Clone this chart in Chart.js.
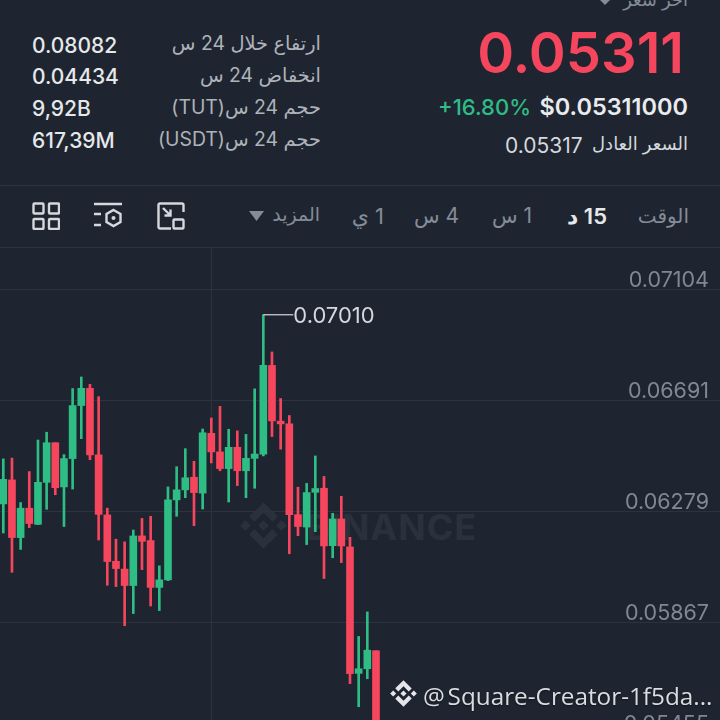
<!DOCTYPE html>
<html lang="ar">
<head>
<meta charset="utf-8">
<script src="https://cdn.jsdelivr.net/npm/chart.js@4"></script>
<style>
  html, body { margin: 0; padding: 0; width: 720px; height: 720px; overflow: hidden; background: #1f2530; }
  body { position: relative; font-family: Inter, "DejaVu Sans", sans-serif; }
  .t { position: absolute; white-space: nowrap; line-height: 1; }
  .r { text-align: right; }
  .line { position: absolute; left: 0; width: 720px; height: 1px; background: #2e3540; }
  #chart { position: absolute; left: 0; top: 248px; }
  svg { position: absolute; }
  .stat { font-size: 21px; font-weight: 500; color: #e6e8ea; left: 32px; }
  .lab { font-size: 19.4px; color: #aeb3ba; right: 399px; }
  .tab { font-size: 21px; color: #848c98; top: 205px; }
</style>
</head>
<body>
<svg width="0" height="0" style="position:absolute">
  <symbol id="bnb" viewBox="0 0 126 126">
    <path d="M38.73 53.2 63 28.93l24.28 24.28 14.12-14.12L63 .69 24.61 39.08z"/>
    <path d="M.69 63l14.12-14.12L28.93 63 14.81 77.12z"/>
    <path d="M38.73 72.8 63 97.07l24.28-24.28 14.13 14.11L63 125.31 24.61 86.92z"/>
    <path d="M97.07 63l14.12-14.12L125.31 63l-14.12 14.12z"/>
    <path d="M77.32 63 63 48.67 48.68 63 63 77.32z"/>
  </symbol>
</svg>

<div class="t r" dir="rtl" style="top:-9px;right:32px;font-size:18px;color:#848c98">آخر سعر</div>
<svg style="left:599px;top:-5px" width="12" height="12" viewBox="0 0 12 12"><path d="M6 0l5 5-5 5-5-5z" fill="#848c98"/></svg>
<div class="t" style="top:25px;right:36px;font-size:56px;font-weight:600;color:#f6465d">0.05311</div>
<div class="t" style="top:96px;left:438px;font-size:22px;font-weight:500;color:#2ebd85">+16.80%</div>
<div class="t" style="top:95px;right:32px;font-size:23.5px;font-weight:600;color:#e9ebee">$0.05311000</div>
<div class="t" style="top:135px;left:505px;font-size:21px;color:#d5d8dc">0.05317</div>
<div class="t" dir="rtl" style="top:135px;right:32px;font-size:18px;color:#d5d8dc">السعر العادل</div>

<div class="t stat" style="top:35px">0.08082</div>
<div class="t stat" style="top:66px">0.04434</div>
<div class="t stat" style="top:98px">9,92B</div>
<div class="t stat" style="top:130px">617,39M</div>
<div class="t lab" dir="rtl" style="top:34px">ارتفاع خلال 24 س</div>
<div class="t lab" dir="rtl" style="top:66px">انخفاض 24 س</div>
<div class="t lab" dir="rtl" style="top:98px">حجم 24 س(TUT)</div>
<div class="t lab" dir="rtl" style="top:130px">حجم 24 س(USDT)</div>

<div class="line" style="top:185px"></div>
<div class="line" style="top:247px"></div>

<svg style="left:32px;top:202px" width="28" height="28" viewBox="0 0 28 28" fill="none" stroke="#d5d8dc" stroke-width="2.4">
  <rect x="1.5" y="1.5" width="10" height="10" rx="1"/><rect x="17" y="1.5" width="10" height="10" rx="1"/>
  <rect x="1.5" y="17" width="10" height="10" rx="1"/><rect x="17" y="17" width="10" height="10" rx="1"/>
</svg>
<svg style="left:93px;top:202px" width="30" height="28" viewBox="0 0 30 28" fill="none" stroke="#d5d8dc" stroke-width="2.4">
  <path d="M1 2h28M1 12h7M1 23h7"/><path d="M20.500 8l7 4v8l-7 4-7-4v-8z"/>
  <circle cx="20.500" cy="16" r="2" fill="#d5d8dc" stroke="none"/>
</svg>
<svg style="left:157px;top:202px" width="28" height="28" viewBox="0 0 28 28" fill="none" stroke="#d5d8dc" stroke-width="2.400">
  <path d="M15 1.500h10a1.500 1.500 0 0 1 1.500 1.500v7M1.500 10V3A1.500 1.500 0 0 1 3 1.500h12M1.500 10v15A1.500 1.500 0 0 0 3 26.500h11"/>
  <path d="M6 6l7.500 7.500M13.500 7.500v6h-6"/>
  <rect x="16.500" y="17.500" width="10" height="9" rx="1"/>
</svg>

<div class="t tab" dir="rtl" style="right:31px;font-size:20px;top:206px">الوقت</div>
<div class="t tab" dir="rtl" style="right:113px;color:#e6e8ea;font-weight:600;font-size:22px">15 د</div>
<div class="t tab" dir="rtl" style="right:188px">1 س</div>
<div class="t tab" dir="rtl" style="right:261px">4 س</div>
<div class="t tab" dir="rtl" style="right:336px;font-size:22px">1 ي</div>
<div class="t tab" dir="rtl" style="right:400px;font-size:19px">المزيد</div>
<svg style="left:249px;top:211px" width="15" height="10" viewBox="0 0 15 10"><path d="M0 0h15L7.500 10z" fill="#848c98"/></svg>

<!-- binance watermark behind the candles -->
<svg style="left:240px;top:502px" width="47" height="47" fill="#2a313c"><use href="#bnb"/></svg>
<div class="t" style="left:306px;top:509px;font-size:36px;font-weight:700;color:#2a313c;letter-spacing:1px">BINANCE</div>

<canvas id="chart" width="720" height="512"></canvas>

<svg style="left:390px;top:680px" width="27" height="27" fill="#e4e6e9"><use href="#bnb"/></svg>
<div class="t" style="left:423px;top:679px;font:24.3px 'Open Sans',sans-serif;word-spacing:-3.5px;color:#d9dce0;text-shadow:0 1px 2px rgba(0,0,0,.5)">@ Square-Creator-1f5da...</div>

<script>
const opens = [0.06308,0.06397,0.06183,0.06292,0.06232,0.06388,0.06535,0.06371,0.06476,0.06673,0.06737,0.06490,
  0.06267,0.06095,0.06066,0.06005,0.06189,0.06172,0.05998,0.06026,0.06323,0.06360,0.06407,0.06348,
  0.06570,0.06501,0.06439,0.06518,0.06431,0.06477,0.06493,0.06822,0.06615,0.06605,0.06268,0.06222,
  0.06351,0.06366,0.06153,0.06252,0.06148,0.05679,0.05696,0.05763]
const closes = [0.06399,0.06183,0.06292,0.06235,0.06388,0.06535,0.06368,0.06476,0.06673,0.06737,0.06490,0.06269,
  0.06094,0.06068,0.06005,0.06189,0.06169,0.05998,0.06026,0.06323,0.06360,0.06405,0.06350,0.06572,
  0.06501,0.06439,0.06518,0.06431,0.06477,0.06493,0.06822,0.06616,0.06605,0.06268,0.06224,0.06350,
  0.06365,0.06152,0.06252,0.06152,0.05678,0.05696,0.05765,0.05311]
const highs = [0.06475,0.06478,0.06313,0.06428,0.06545,0.06574,0.06535,0.06491,0.06736,0.06779,0.06752,0.06706,
  0.06292,0.06177,0.06167,0.06211,0.06254,0.06262,0.06078,0.06371,0.06446,0.06513,0.06466,0.06586,
  0.06627,0.06670,0.06585,0.06579,0.06566,0.06735,0.07010,0.06872,0.06699,0.06636,0.06370,0.06384,
  0.06486,0.06410,0.06273,0.06336,0.06184,0.05816,0.05907,0.05763]
const lows = [0.06200,0.06054,0.06139,0.06220,0.06231,0.06288,0.06342,0.06224,0.06363,0.06550,0.06472,0.06174,
  0.06006,0.06001,0.05856,0.05901,0.06064,0.05929,0.05912,0.06023,0.06262,0.06331,0.06227,0.06289,
  0.06460,0.06431,0.06315,0.06376,0.06331,0.06366,0.06486,0.06558,0.06511,0.06123,0.06190,0.06157,
  0.06205,0.06031,0.06108,0.06090,0.05641,0.05555,0.05659,0.05311]
const yTicks = [0.07104, 0.06691, 0.06279, 0.05867, 0.05455]
const highLabel = '0.07010'
const highIndex = 30

const UP = '#2ebd85'
const DOWN = '#f6465d'
const candleColors = opens.map((o, i) => closes[i] >= o ? UP : DOWN)

// leader line and label for the session high
const highMark = {
  id: 'highMark',
  afterDatasetsDraw(chart) {
    const { ctx, scales } = chart
    const px = scales.x.getPixelForValue(highIndex)
    const py = scales.y.getPixelForValue(highs[highIndex])
    ctx.save()
    ctx.strokeStyle = '#d5d8dc'
    ctx.lineWidth = 1.2
    ctx.beginPath()
    ctx.moveTo(px, py)
    ctx.lineTo(px + 30, py)
    ctx.stroke()
    ctx.fillStyle = '#d5d8dc'
    ctx.font = '22px Inter'
    ctx.textBaseline = 'middle'
    ctx.fillText(highLabel, px + 30, py + 2)
    ctx.restore()
  }
}

new Chart(document.getElementById('chart'), {
  type: 'bar',
  data: {
    datasets: [
      {
        data: lows.map((l, i) => ({ x: i, y: [l, highs[i]] })),
        backgroundColor: candleColors,
        barThickness: 2,
        grouped: false,
        order: 2
      },
      {
        data: opens.map((o, i) => ({ x: i, y: [o, closes[i]] })),
        backgroundColor: candleColors,
        barThickness: 7,
        grouped: false,
        order: 1
      }
    ]
  },
  options: {
    responsive: false,
    animation: false,
    events: [],
    layout: { padding: 0 },
    plugins: { legend: { display: false }, tooltip: { enabled: false } },
    scales: {
      x: {
        type: 'linear',
        offset: false,
        min: -0.38,
        max: 82.69,
        afterBuildTicks: axis => { axis.ticks = [{ value: 24 }] },
        grid: { color: '#2c333e', drawTicks: false, offset: false },
        border: { display: false },
        ticks: { display: false }
      },
      y: {
        position: 'right',
        min: 0.053574,
        max: 0.072578,
        afterBuildTicks: axis => { axis.ticks = yTicks.map(v => ({ value: v })) },
        // the tick labels sit inside the plot, so no margin is needed for them
        afterFit: axis => { axis.paddingTop = 0; axis.paddingBottom = 0; axis.width = 0 },
        grid: { color: '#2c333e', drawTicks: false },
        border: { display: false },
        ticks: {
          mirror: true,
          padding: -11,
          labelOffset: -9,
          color: '#808894',
          font: { family: 'Inter', size: 21.5 },
          callback: v => v.toFixed(5)
        }
      }
    }
  },
  plugins: [highMark]
})
</script>
</body>
</html>
